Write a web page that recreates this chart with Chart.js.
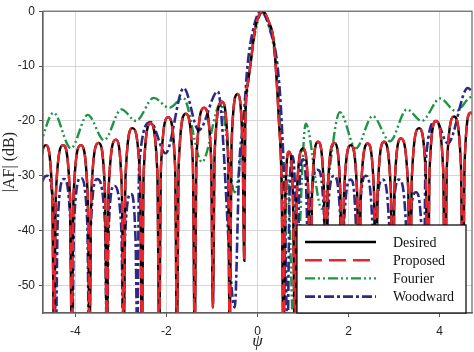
<!DOCTYPE html>
<html>
<head>
<meta charset="utf-8">
<script src="https://cdn.jsdelivr.net/npm/chart.js@4/dist/chart.umd.min.js"></script>
<style>
  html, body { margin: 0; padding: 0; background: #fff; }
  #wrap { width: 474px; height: 352px; }
</style>
</head>
<body>
<div id="wrap"><canvas id="afChart" width="474" height="352"></canvas></div>
<script>
/* [ Data: psi positions and |AF| in dB ] */
const xTicks = [-4, -2, 0, 2, 4];
const yTicks = [0, -10, -20, -30, -40, -50];
const seriesNames = ['Desired', 'Proposed', 'Fourier', 'Woodward'];

// nulls, lobe shoulders and peaks
const desiredPsi = [
  -4.84,-4.80,-4.65,-4.51,-4.47,-4.43,-4.27,-4.12,-4.08,-4.04,-3.88,-3.73,-3.69,-3.65,-3.49,-3.35,
  -3.31,-3.27,-3.11,-2.98,-2.94,-2.90,-2.75,-2.58,-2.54,-2.50,-2.35,-2.20,-2.16,-2.12,-1.96,-1.81,
  -1.77,-1.73,-1.58,-1.42,-1.38,-1.34,-1.17,-1.02,-0.98,-0.94,-0.78,-0.65,-0.61,-0.57,-0.44,-0.33,
  -0.29,-0.27,-0.21,-0.15,-0.06,0.02,0.12,0.25,0.35,0.40,0.47,0.53,
  0.57,0.61,0.69,0.78,0.82,0.86,1.00,1.12,1.16,1.20,1.33,1.46,1.50,1.54,1.69,1.82,
  1.86,1.90,2.05,2.19,2.23,2.27,2.42,2.56,2.60,2.64,2.78,2.93,2.97,3.01,3.15,3.31,
  3.35,3.39,3.55,3.70,3.74,3.78,3.92,4.08,4.12,4.16,4.32,4.47,4.51,4.55,4.68,4.84,4.88];
const desiredDb = [
  -60,-33.4,-24.4,-33.4,-60,-33.4,-24.4,-33.4,-60,-33.4,-24.4,-33.4,-60,-33,-24.0,-33,
  -60,-32.4,-23.4,-32.4,-60,-30.3,-21.3,-30.3,-60,-29.4,-20.4,-29.4,-60,-28.3,-19.3,-28.3,
  -60,-27.7,-18.7,-27.7,-60,-26.6,-17.6,-26.6,-54,-25.5,-16.5,-25.5,-60,-24.1,-15.1,-24.1,
  -45.5,-21,-13,-9.5,-3.5,-1,0,-2,-5,-10,-20,-32,
  -60,-34.6,-25.6,-34.6,-60,-34,-25,-34,-60,-32.8,-23.8,-32.8,-60,-33,-24,-33,
  -60,-33.4,-24.4,-33.4,-60,-33.1,-24.1,-33.1,-60,-32.8,-23.8,-32.8,-60,-32.2,-23.2,-32.2,
  -60,-30.3,-21.3,-30.3,-60,-29,-20,-29,-60,-28.2,-19.2,-28.2,-60,-27.5,-18.5,-27.5,-60];

const proposedPsi = [
  -4.84,-4.80,-4.65,-4.51,-4.47,-4.43,-4.27,-4.12,-4.08,-4.04,-3.88,-3.73,-3.69,-3.65,-3.49,-3.35,
  -3.31,-3.27,-3.11,-2.98,-2.94,-2.90,-2.75,-2.58,-2.54,-2.50,-2.35,-2.20,-2.16,-2.12,-1.96,-1.81,
  -1.77,-1.73,-1.58,-1.42,-1.38,-1.34,-1.17,-1.02,-0.98,-0.94,-0.78,-0.65,-0.61,-0.57,-0.44,-0.33,
  -0.29,-0.27,-0.21,-0.15,-0.06,0.02,0.12,0.25,0.35,0.40,0.47,0.53,
  0.57,0.61,0.69,0.78,0.82,0.86,1.00,1.12,1.16,1.20,1.33,1.46,1.50,1.54,1.69,1.82,
  1.86,1.90,2.05,2.19,2.23,2.27,2.42,2.56,2.60,2.64,2.78,2.93,2.97,3.01,3.15,3.31,
  3.35,3.39,3.55,3.70,3.74,3.78,3.92,4.08,4.12,4.16,4.32,4.47,4.51,4.55,4.68,4.84,4.88];
const proposedDb = [
  -60,-33.4,-24.4,-33.4,-60,-33.4,-24.4,-33.4,-60,-33.4,-24.4,-33.4,-60,-33,-24.0,-33,
  -60,-32.4,-23.4,-32.4,-60,-30.3,-21.3,-30.3,-60,-29.4,-20.4,-29.4,-60,-28.3,-19.3,-28.3,
  -60,-27.7,-18.7,-27.7,-60,-26.6,-17.6,-26.6,-54,-25.5,-16.5,-25.5,-60,-24.1,-15.1,-24.1,
  -45.5,-21,-13,-9.5,-3.5,-1,0,-2,-5,-10,-20,-32,
  -60,-34.6,-25.6,-34.6,-60,-34,-25,-34,-60,-32.8,-23.8,-32.8,-60,-33,-24,-33,
  -60,-33.4,-24.4,-33.4,-60,-33.1,-24.1,-33.1,-60,-32.8,-23.8,-32.8,-60,-32.2,-23.2,-32.2,
  -60,-30.3,-21.3,-30.3,-60,-29,-20,-29,-60,-28.2,-19.2,-28.2,-60,-27.5,-18.5,-27.5,-60];

const fourierPsi = [-4.80,-4.48,-4.10,-3.73,-3.37,-2.99,-2.67,-2.28,-1.94,-1.63,-1.22,-0.81,-0.50,
  -0.26,-0.15,-0.03,0.12,0.28,0.41,0.49,0.55,0.57,0.66,0.80,
  1.06,1.41,1.81,2.16,2.53,2.91,3.28,3.61,4.01,4.36,4.71,4.90];
const fourierDb = [-25,-18.5,-25,-18.9,-23.5,-17.9,-20,-15.8,-17.6,-15.8,-27.5,-16.8,-33,
  -17,-9,-3,0,-3.5,-10,-20,-35,-53,-30,-60,
  -20.5,-36,-18.4,-25,-19.1,-23.7,-17.9,-20,-15.9,-18.2,-15.6,-18];

const woodwardPsi = [
  -4.86,-4.82,-4.62,-4.47,-4.43,-4.39,-4.25,-4.11,-4.07,-4.03,-3.88,-3.74,-3.70,-3.66,-3.52,-3.35,
  -3.31,-3.27,-3.15,-2.99,-2.95,-2.91,-2.78,-2.68,-2.64,-2.60,-2.35,-2.02,-1.62,-1.29,-0.87,-0.50,
  -0.40,-0.31,-0.22,-0.10,0.07,0.28,0.44,0.53,0.60,0.66,
  0.70,0.77,0.83,0.87,0.91,1.00,1.08,1.12,1.16,1.32,1.46,1.50,1.54,1.68,1.82,1.86,
  1.90,2.05,2.16,2.20,2.24,2.38,2.52,2.56,2.60,2.75,2.89,2.93,2.97,3.11,3.26,3.30,
  3.34,3.48,3.61,3.65,3.69,3.92,4.18,4.62,4.80];
const woodwardDb = [
  -60,-38,-30,-38,-60,-38.6,-30.6,-38.6,-60,-38.4,-30.4,-38.4,-60,-38.6,-30.6,-38.6,
  -60,-39.8,-31.8,-39.8,-60,-41.3,-33.3,-41.3,-60,-28,-20.2,-25.9,-14,-21.7,-14.6,-54,
  -28,-20,-10,-3.5,0,-3.5,-10,-20,-35,-60,
  -35,-26.4,-35,-60,-35,-27,-35,-60,-37,-28.9,-37,-60,-38,-30,-38,-60,
  -38.7,-30.7,-38.7,-60,-38,-30,-38,-60,-38.7,-30.7,-38.7,-60,-38.7,-30.7,-38.7,-60,
  -41,-33,-41,-60,-28,-20,-24.1,-14,-16];

function toPoints(xs, ys) {
  return xs.map(function (x, i) { return { x: x, y: ys[i] }; });
}

/* [ Styles ] */
const colors = ['#000000', '#e8262b', '#1e9445', '#2c2a86'];
const dashes = [[], [12, 5], [10, 3, 2, 3, 2, 3], [10, 3, 3, 3]];
const widths = [2.4, 2.4, 2.4, 2.6];

/* [ Frame + in-plot legend ] */
const framePlugin = {
  id: 'frame',
  afterDatasetsDraw: function (chart) {
    const ctx = chart.ctx, a = chart.chartArea;
    ctx.save();
    ctx.strokeStyle = '#666';
    ctx.lineWidth = 1.2;
    ctx.setLineDash([]);
    ctx.strokeRect(a.left, a.top, a.right - a.left, a.bottom - a.top);

    // legend box
    const bx = 297, by = 225, bw = 169, bh = 88;
    ctx.fillStyle = '#fff';
    ctx.fillRect(bx, by, bw, bh);
    ctx.strokeStyle = '#111';
    ctx.lineWidth = 1.3;
    ctx.strokeRect(bx, by, bw, bh);
    ctx.font = '14px "Liberation Serif", "Times New Roman", serif';
    ctx.textBaseline = 'middle';
    ctx.textAlign = 'left';
    for (let i = 0; i < seriesNames.length; i++) {
      const ly = 242 + i * 18.2;
      ctx.beginPath();
      ctx.strokeStyle = colors[i];
      ctx.lineWidth = widths[i];
      ctx.setLineDash(i === 1 ? [17, 7] : dashes[i]);
      ctx.moveTo(305, ly);
      ctx.lineTo(376, ly);
      ctx.stroke();
      ctx.setLineDash([]);
      ctx.fillStyle = '#111';
      ctx.fillText(seriesNames[i], 393, ly + 1);
    }
    ctx.restore();
  }
};

const sets = [
  [desiredPsi, desiredDb],
  [proposedPsi, proposedDb],
  [fourierPsi, fourierDb],
  [woodwardPsi, woodwardDb]
];
const drawOrder = [1, 0, 3, 2];

const ctx1 = document.getElementById('afChart').getContext('2d');
let afChart = new Chart(ctx1, {
  type: 'line',
  data: {
    datasets: sets.map(function (s, i) {
      return {
        label: seriesNames[i],
        data: toPoints(s[0], s[1]),
        borderColor: colors[i],
        borderDash: dashes[i],
        borderWidth: widths[i],
        pointRadius: 0,
        fill: false,
        cubicInterpolationMode: 'monotone',
        capBezierPoints: false,
        order: drawOrder[i]
      };
    })
  },
  options: {
    responsive: false,
    animation: false,
    devicePixelRatio: 1,
    layout: { padding: { left: 0, top: 5, right: 2, bottom: 0 } },
    plugins: { legend: { display: false }, tooltip: { enabled: false } },
    scales: {
      x: {
        type: 'linear',
        min: -4.712,
        max: 4.712,
        afterBuildTicks: function (s) { s.ticks = xTicks.map(function (v) { return { value: v }; }); },
        afterFit: function (s) { s.height = 39; },
        grid: { color: '#d6d6d6', lineWidth: 1, tickLength: 4, tickColor: '#555' },
        border: { color: '#555', width: 1.2 },
        ticks: { color: '#222', font: { family: 'Arial, "Liberation Sans"', size: 12 }, padding: 7, maxRotation: 0 },
        title: { display: true, text: 'ψ', color: '#222', padding: 0,
                 font: { family: '"Liberation Serif", "Times New Roman", serif', size: 17, style: 'italic' } }
      },
      y: {
        min: -55,
        max: 0,
        afterBuildTicks: function (s) { s.ticks = yTicks.map(function (v) { return { value: v }; }); },
        afterFit: function (s) { s.width = 43; },
        grid: { color: '#d6d6d6', lineWidth: 1, tickLength: 4, tickColor: '#555' },
        border: { color: '#555', width: 1.2 },
        ticks: { color: '#222', font: { family: 'Arial, "Liberation Sans"', size: 12 }, padding: 4 },
        title: { display: true, text: '|AF| (dB)', color: '#222', padding: 0,
                 font: { family: '"Liberation Serif", "Times New Roman", serif', size: 16 } }
      }
    }
  },
  plugins: [framePlugin]
});
</script>
</body>
</html>
